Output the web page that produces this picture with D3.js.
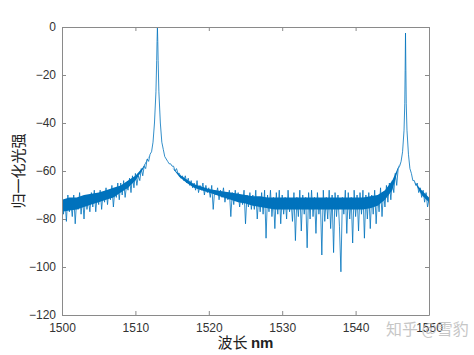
<!DOCTYPE html>
<html lang="zh">
<head>
<meta charset="UTF-8">
<title>归一化光强谱</title>
<script src="https://d3js.org/d3.v7.min.js"></script>
<style>
  body { margin: 0; background: #fff; }
  svg { display: block; }
</style>
</head>
<body>
<div id="chart"></div>
<script>
// spectrum sampled every 0.2 nm from 1500 nm
const startWl = 1500;
const stepWl = 0.2;
const powerDb = [
  -71, -78, -72, -81, -70, -77, -73, -79, -70, -82,
  -72, -76, -69, -78, -71, -80, -70, -76, -72, -77,
  -69, -75, -68, -77, -70, -74, -68, -76, -69, -73,
  -67, -74, -68, -72, -66, -75, -68, -71, -65, -72,
  -65, -70, -64, -71, -66, -68, -63, -69, -62, -67,
  -61, -66, -62, -64, -59, -62, -58, -59, -55, -56,
  -53, -52, -48, -40, -27, 0, -27, -40, -48, -51,
  -54, -55, -56, -57, -57, -58, -58, -60, -59, -61,
  -61, -63, -62, -64, -62, -65, -63, -66, -64, -67,
  -65, -68, -64, -69, -66, -68, -65, -70, -66, -69,
  -67, -71, -66, -76, -68, -70, -67, -72, -68, -71,
  -67, -73, -69, -72, -68, -79, -69, -74, -68, -72,
  -69, -75, -70, -74, -68, -82, -70, -75, -69, -76,
  -70, -76, -68, -80, -71, -77, -69, -78, -68, -88,
  -70, -77, -68, -79, -71, -84, -69, -78, -68, -82,
  -70, -78, -71, -80, -68, -77, -72, -81, -69, -89,
  -71, -79, -68, -85, -70, -78, -71, -92, -69, -80,
  -68, -79, -71, -86, -69, -78, -72, -95, -68, -81,
  -71, -80, -68, -84, -70, -94, -69, -79, -70, -83,
  -102, -71, -78, -68, -86, -69, -80, -71, -90, -68,
  -79, -70, -85, -69, -78, -68, -88, -70, -80, -69,
  -84, -70, -78, -68, -82, -70, -77, -67, -79, -69,
  -75, -66, -73, -65, -72, -64, -69, -61, -66, -59,
  -58, -56, -52, -43, -2.5, -43, -53, -59, -61, -64,
  -64, -66, -65, -69, -67, -71, -68, -73, -69, -75,
  -72
];
// finer samples on the two peaks
const peakPoints = [
  [1512.9, -14], [1512.95, -6], [1513.05, -6], [1513.1, -14],
  [1546.7, -32], [1546.75, -18], [1546.85, -18], [1546.9, -32]
];
// dense core of the noise floor, read every 1 nm (upper / lower edge)
const bandHi = [
  -72, -71, -71, -70, -69.5, -69, -68, -67, -66, -64,
  -62, -58.5, -53, -53, -55, -58.5, -61.5, -63.5, -65.5, -66.5,
  -67.5, -68, -68.5, -69, -69.5, -70, -70.5, -70.5, -71, -71,
  -71, -71, -71, -71, -71, -71, -71, -71, -71, -71,
  -71, -71, -70.5, -70, -68, -64, -57, -57, -64.5, -68,
  -71
];
const bandLo = [
  -77, -76.5, -76, -75, -74, -73, -72, -71, -69, -67,
  -64, -59.5, -53, -53, -55, -58.5, -62.5, -65, -67, -68,
  -69, -70, -71, -72, -73, -73.5, -74.5, -75, -75.5, -76,
  -76, -76, -76, -76, -76, -76, -76, -76, -76, -76,
  -76, -76, -75.5, -74.5, -72, -68, -57, -57, -64.5, -70,
  -73
];
const xTicks = [1500, 1510, 1520, 1530, 1540, 1550];
const yTicks = [-120, -100, -80, -60, -40, -20, 0];

const width = 474;
const height = 355;
const marginTop = 27;
const marginRight = 45;
const marginBottom = 40;
const marginLeft = 62;
const blue = "#0072BD";

const data = powerDb.map((v, i) => [startWl + i * stepWl, v])
  .concat(peakPoints)
  .sort((a, b) => a[0] - b[0]);
const band = bandHi.map((v, i) => ({ wl: startWl + i, hi: v, lo: bandLo[i] }));

const x = d3.scaleLinear()
  .domain([1500, 1550])
  .range([marginLeft, width - marginRight]);

const y = d3.scaleLinear()
  .domain([-120, 0])
  .range([height - marginBottom, marginTop]);

const svg = d3.select("#chart")
  .append("svg")
  .attr("width", width)
  .attr("height", height)
  .style("font-family", "'Liberation Sans', Arial, sans-serif");

svg.append("clipPath").attr("id", "plot")
  .append("rect")
  .attr("x", marginLeft).attr("y", marginTop - 1)
  .attr("width", width - marginLeft - marginRight)
  .attr("height", height - marginTop - marginBottom + 1);

svg.append("path")
  .datum(band)
  .attr("clip-path", "url(#plot)")
  .attr("fill", blue)
  .attr("d", d3.area()
    .x(d => x(d.wl))
    .y0(d => y(d.lo))
    .y1(d => y(d.hi)));

const line = d3.line()
  .x(d => x(d[0]))
  .y(d => y(d[1]));

svg.append("path")
  .datum(data)
  .attr("clip-path", "url(#plot)")
  .attr("fill", "none")
  .attr("stroke", blue)
  .attr("stroke-width", 0.8)
  .attr("stroke-linejoin", "round")
  .attr("d", line);

function styleAxis(g) {
  g.select(".domain").attr("stroke", "#8a8a8a");
  g.selectAll(".tick line").attr("stroke", "#8a8a8a");
  g.selectAll(".tick text").attr("fill", "#333").style("font-size", "12px");
}

svg.append("g")
  .attr("transform", `translate(0,${height - marginBottom})`)
  .call(d3.axisBottom(x).tickValues(xTicks).tickFormat(d3.format("d"))
    .tickSizeInner(-4).tickSizeOuter(0).tickPadding(8))
  .call(styleAxis);

svg.append("g")
  .attr("transform", `translate(0,${marginTop})`)
  .call(d3.axisTop(x).tickValues(xTicks).tickFormat("")
    .tickSizeInner(-4).tickSizeOuter(0))
  .call(styleAxis);

svg.append("g")
  .attr("transform", `translate(${marginLeft},0)`)
  .call(d3.axisLeft(y).tickValues(yTicks).tickFormat(d3.format("d"))
    .tickSizeInner(-4).tickSizeOuter(0).tickPadding(6))
  .call(styleAxis);

svg.append("g")
  .attr("transform", `translate(${width - marginRight},0)`)
  .call(d3.axisRight(y).tickValues(yTicks).tickFormat("")
    .tickSizeInner(-4).tickSizeOuter(0))
  .call(styleAxis);

// axis titles
svg.append("text")
  .attr("transform", `translate(24,${(marginTop + height - marginBottom) / 2}) rotate(-90)`)
  .attr("text-anchor", "middle")
  .attr("fill", "#222")
  .style("font-family", "'Noto Sans CJK SC', sans-serif")
  .style("font-size", "15px")
  .text("归一化光强");

const xt = svg.append("text")
  .attr("x", (marginLeft + width - marginRight) / 2)
  .attr("y", 348)
  .attr("text-anchor", "middle")
  .attr("fill", "#222")
  .style("font-size", "15px");
xt.append("tspan").style("font-family", "'Noto Sans CJK SC', sans-serif").text("波长 ");
xt.append("tspan").style("font-weight", "bold").text("nm");

// watermark
svg.append("text")
  .attr("x", 386)
  .attr("y", 335)
  .attr("fill", "#bdbdbd")
  .attr("opacity", 0.85)
  .style("font-family", "'Noto Sans CJK SC', sans-serif")
  .style("font-size", "16px")
  .text("知乎 @雪豹");
</script>
</body>
</html>
